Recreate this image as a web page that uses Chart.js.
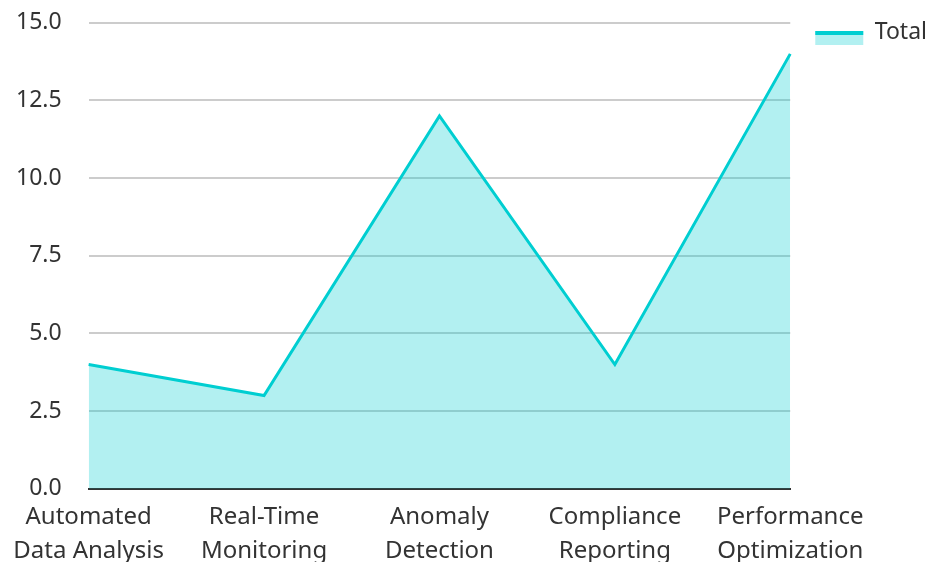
<!DOCTYPE html>
<html>
<head>
<meta charset="utf-8">
<script src="https://cdn.jsdelivr.net/npm/chart.js@4.4.1/dist/chart.umd.min.js"></script>
<style>
html,body{margin:0;padding:0;background:#fff;overflow:hidden;}
#wrap{position:relative;width:960px;height:598px;margin-top:-18px;margin-left:-23px;}
</style>
</head>
<body>
<div id="wrap"><canvas id="c"></canvas></div>
<script>
const categories = [["Automated","Data Analysis"],["Real-Time","Monitoring"],["Anomaly","Detection"],["Compliance","Reporting"],["Performance","Optimization"]];
const seriesName = "Total";
const totals = [4, 3, 12, 4, 14];
const yTicks = [0, 2.5, 5, 7.5, 10, 12.5, 15];

const lineColor = "#00CED1";
const fillColor = "rgba(0,206,209,0.3)";
const textColor = "#333333";

const legendBoxPlugin = {
  id: "legendBoxPlugin",
  afterDraw(chart) {
    const lg = chart.legend;
    if (!lg || !lg.legendHitBoxes) return;
    const ctx = chart.ctx;
    lg.legendHitBoxes.forEach((hb) => {
      const bw = 48, bh = 14;
      const x = hb.left;
      const y = Math.round(hb.top + hb.height / 2 - 1.5);
      ctx.save();
      ctx.fillStyle = fillColor;
      ctx.fillRect(x, y, bw, bh);
      ctx.fillStyle = lineColor;
      ctx.fillRect(x, y, bw, 4);
      ctx.restore();
    });
  }
};

new Chart(document.getElementById("c"), {
  type: "line",
  data: {
    labels: categories,
    datasets: [{
      label: seriesName,
      data: totals,
      borderColor: lineColor,
      backgroundColor: fillColor,
      borderWidth: 3,
      fill: "origin",
      pointRadius: 0,
      tension: 0
    }]
  },
  options: {
    responsive: true,
    maintainAspectRatio: false,
    animation: false,
    layout: { padding: { left: 12, right: 0, top: 10, bottom: 0 } },
    plugins: {
      tooltip: { enabled: false },
      legend: {
        position: "right",
        align: "start",
        labels: {
          boxWidth: 48,
          boxHeight: 31,
          padding: 25,
          color: textColor,
          font: { family: "'Noto Sans'", size: 23 },
          generateLabels(chart) {
            return chart.data.datasets.map((ds, i) => ({
              text: ds.label,
              fillStyle: "rgba(0,0,0,0)",
              strokeStyle: "rgba(0,0,0,0)",
              lineWidth: 0,
              fontColor: textColor,
              datasetIndex: i
            }));
          }
        }
      }
    },
    scales: {
      x: {
        offset: false,
        grid: { display: false, drawTicks: false },
        border: { display: true, color: "#333333", width: 2 },
        ticks: {
          color: textColor,
          padding: 12,
          maxRotation: 0,
          autoSkip: false,
          font: { family: "'Noto Sans'", size: 24, lineHeight: 1.4 }
        }
      },
      y: {
        min: 0,
        max: 15,
        afterBuildTicks(axis) { axis.ticks = yTicks.map(v => ({ value: v })); },
        grid: { color: "rgba(0,0,0,0.2)", drawTicks: false, lineWidth: 2 },
        border: { display: false },
        ticks: {
          color: textColor,
          padding: 27,
          font: { family: "'Noto Sans'", size: 23 },
          callback: (v) => Number(v).toFixed(1)
        }
      }
    }
  },
  plugins: [legendBoxPlugin]
});
</script>
</body>
</html>
